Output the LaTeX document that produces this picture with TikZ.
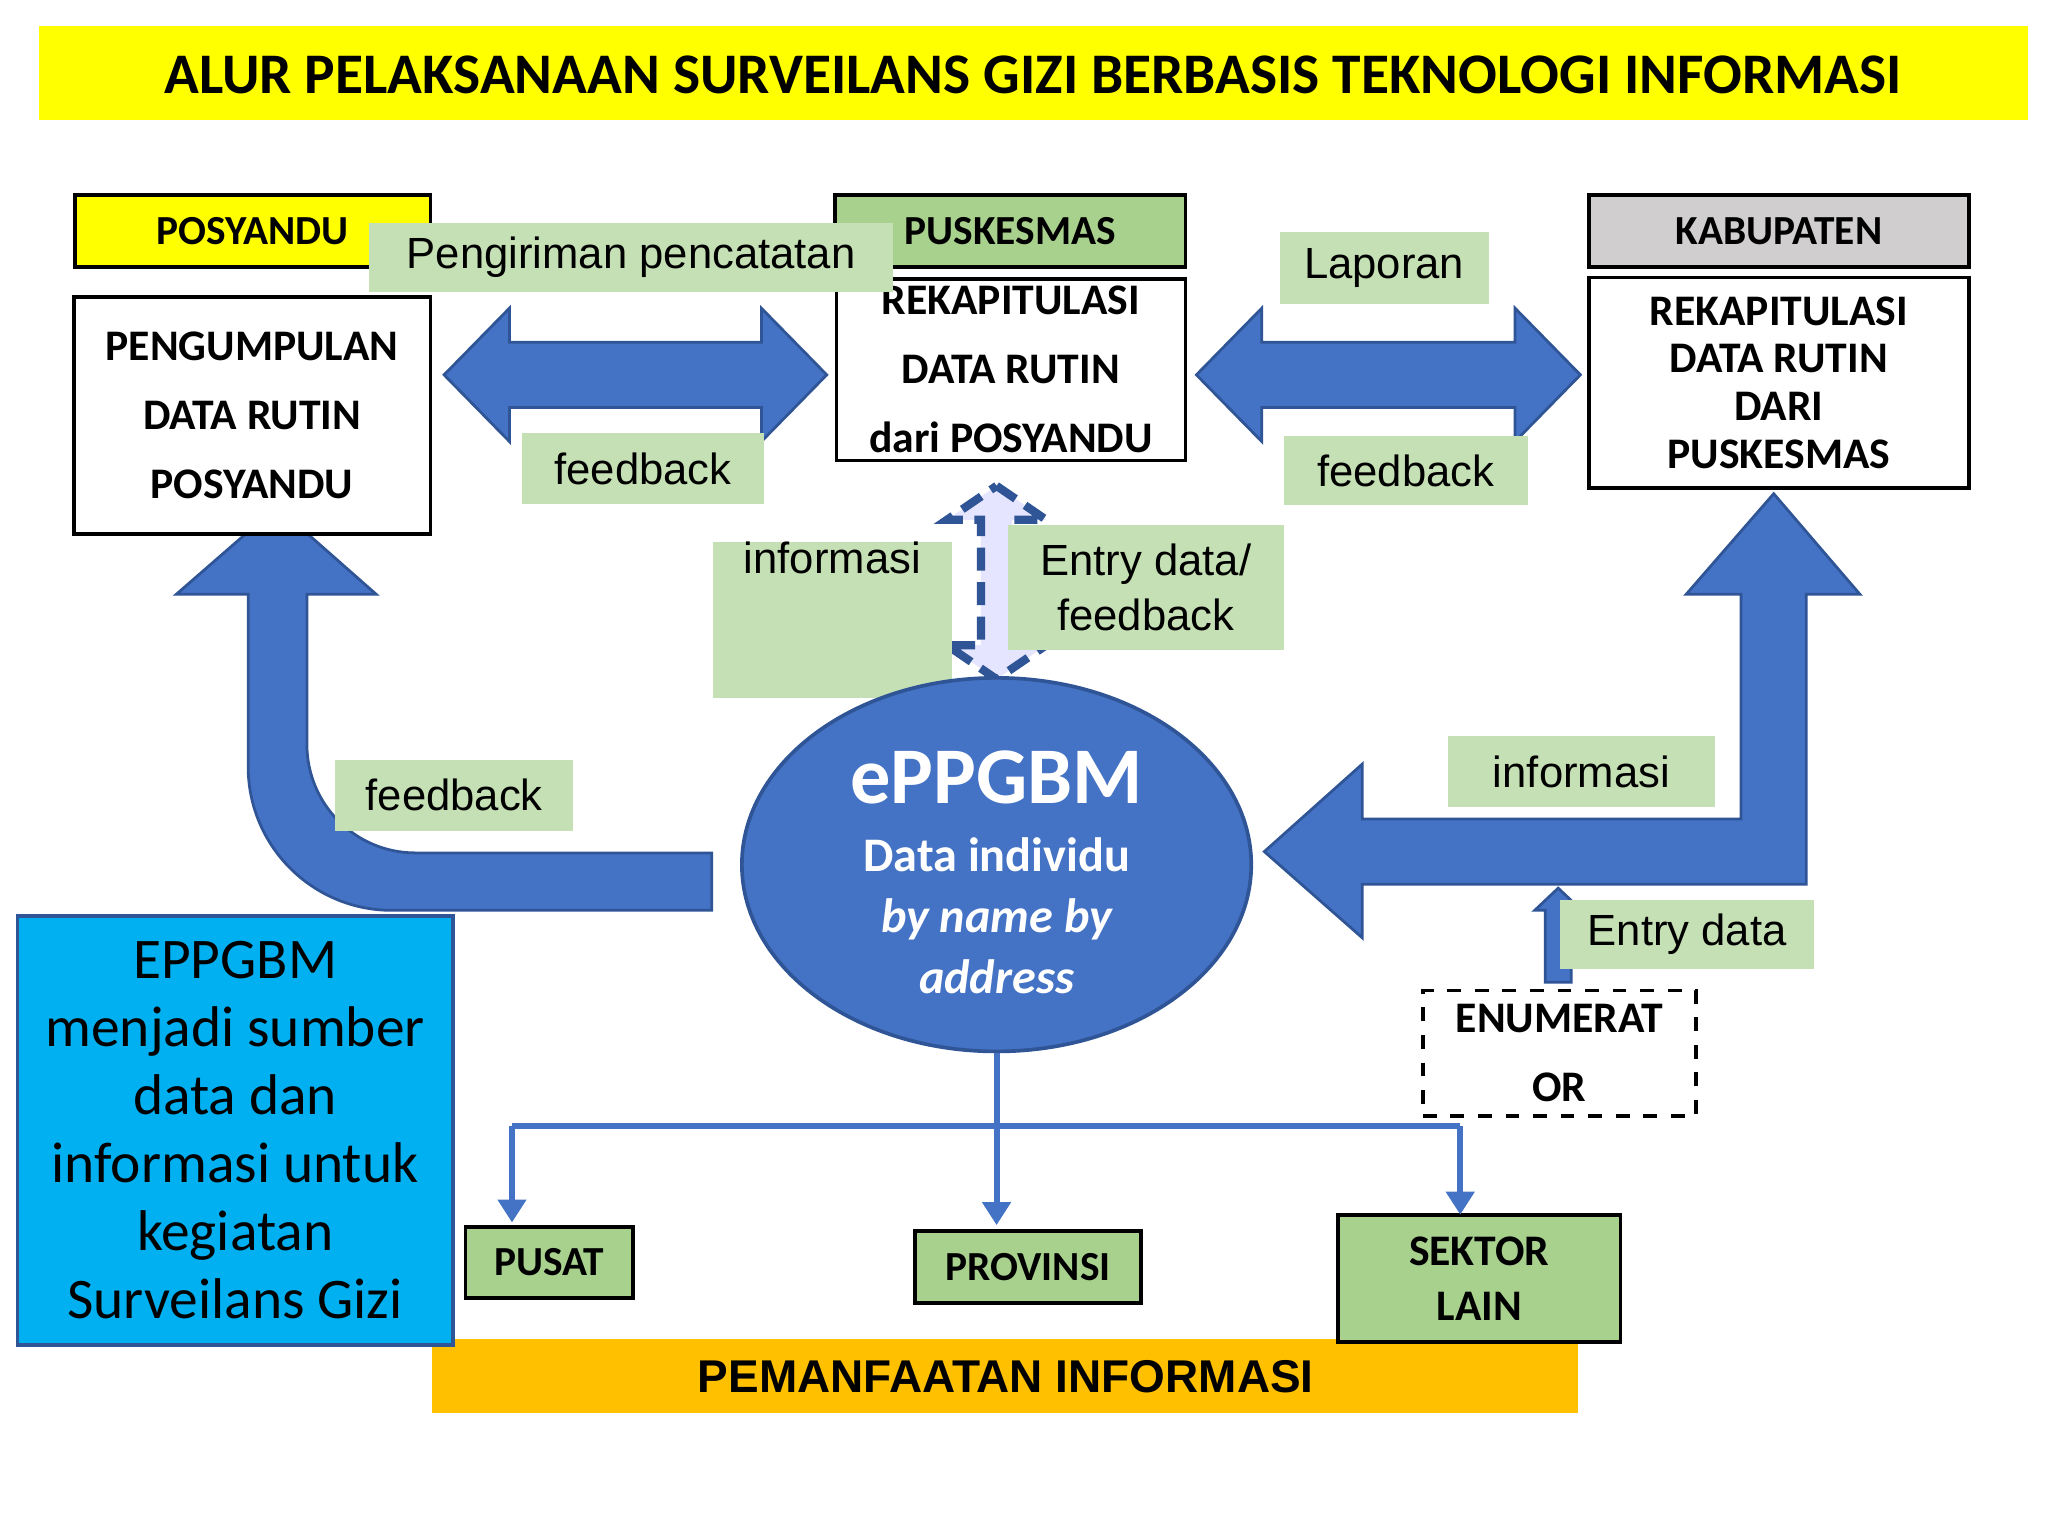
\documentclass[tikz,border=0pt]{standalone}
\usepackage{fontspec}
\setmainfont{Carlito}
\newfontfamily\arialf{Liberation Sans}
\usetikzlibrary{arrows.meta,shapes.geometric}
\definecolor{bl}{HTML}{4472C4}
\definecolor{dbl}{HTML}{2F5597}
\definecolor{lg}{HTML}{C5E0B4}
\definecolor{gb}{HTML}{A9D18E}
\definecolor{gr}{HTML}{D0CECE}
\definecolor{ye}{HTML}{FFFF00}
\definecolor{or}{HTML}{FFC000}
\definecolor{cy}{HTML}{00B0F0}
\tikzset{
 box/.style={draw=black,line width=0.8pt,align=center,font=\bfseries\fontsize{9}{12}\selectfont,inner sep=0pt},
 lab/.style={fill=lg,align=center,font=\arialf\fontsize{9.5}{12}\selectfont,inner sep=0pt},
 blk/.style={fill=bl,draw=dbl,line width=0.6pt},
 conn/.style={draw=bl,line width=1.3pt},
}
\newcommand{\rbox}[6]{\node[#6,minimum width=#3*0.01cm-0.8pt,minimum height=#4*0.01cm-0.8pt,anchor=north west] (#1) at (#2) {#5};}
\begin{document}
\begin{tikzpicture}[x=0.01cm,y=-0.01cm]
\useasboundingbox (0,0) rectangle (1568,1176);
\fill[white] (0,0) rectangle (1568,1176);
% title
\fill[ye] (30,20) rectangle (1553,92);
\node[font=\bfseries\fontsize{12.5}{14}\selectfont] (title) at (791,57) {ALUR PELAKSANAAN SURVEILANS GIZI BERBASIS TEKNOLOGI INFORMASI};
% block arrows
\path[blk] (340,287) -- (390,236) -- (390,262) -- (583,262) -- (583,236) -- (633,287) -- (583,338) -- (583,312) -- (390,312) -- (390,338) -- cycle;
\path[blk] (916,287) -- (966,236) -- (966,262) -- (1160,262) -- (1160,236) -- (1210,287) -- (1160,338) -- (1160,312) -- (966,312) -- (966,338) -- cycle;
\path[blk] (545,697) -- (300,697) arc (90:180:110) -- (190,455) -- (135,455) -- (212,388) -- (288,455) -- (235,455) -- (235,570) arc (180:90:83) -- (545,653) -- cycle;
\path[blk] (1358,378) -- (1424,455) -- (1383,455) -- (1383,677) -- (1043,677) -- (1043,718) -- (968,652) -- (1043,585) -- (1043,627) -- (1333,627) -- (1333,455) -- (1291,455) -- cycle;
\path[blk] (1183,752) -- (1183,697) -- (1175,697) -- (1193,680) -- (1211,697) -- (1203,697) -- (1203,752) -- cycle;
% dashed double arrow
\path[fill=blue!10,draw=dbl,line width=1.8pt,dash pattern=on 5pt off 2.5pt] (763,372) -- (801,398) -- (775,398) -- (775,494) -- (801,494) -- (763,520) -- (725,494) -- (751,494) -- (751,398) -- (725,398) -- cycle;
% boxes
\rbox{posy}{56,148}{275}{58}{POSYANDU}{box,fill=ye}
\rbox{peng}{55,226}{276}{184}{PENGUMPULAN\\DATA RUTIN\\POSYANDU}{box,fill=white,font=\bfseries\fontsize{9.5}{15}\selectfont}
\rbox{pusk}{638,148}{271}{58}{PUSKESMAS}{box,fill=gb}
\rbox{rekp}{639,212}{270}{142}{REKAPITULASI\\DATA RUTIN\\dari POSYANDU}{box,fill=white,font=\bfseries\fontsize{9.5}{15}\selectfont}
\rbox{kab}{1215,148}{294}{58}{KABUPATEN}{box,fill=gr}
\rbox{rekk}{1215,211}{294}{164}{REKAPITULASI\\DATA RUTIN\\DARI\\PUSKESMAS}{box,fill=white,font=\bfseries\fontsize{9.5}{10.4}\selectfont}
% labels
\rbox{l1}{282,170}{404}{56}{Pengiriman pencatatan}{lab}
\rbox{l2}{399,331}{188}{57}{feedback}{lab}
\rbox{l3}{979,177}{163}{58}{Laporan}{lab}
\rbox{l4}{982,333}{190}{56}{feedback}{lab}
\rbox{l5}{545,414}{186}{100}{informasi\\[3ex]}{lab}
\rbox{l6}{771,401}{214}{99}{Entry data/\\feedback}{lab}
\rbox{l7}{256,581}{185}{57}{feedback}{lab}
\rbox{l8}{1108,563}{207}{57}{informasi}{lab}
\rbox{l9}{1194,688}{197}{56}{Entry data}{lab}
% ellipse
\node[ellipse,fill=bl,draw=dbl,line width=0.8pt,minimum width=390*0.01cm,minimum height=286*0.01cm,inner sep=0pt] (epp) at (763,662) {};
\node[text=white,align=center,font=\bfseries\fontsize{10.5}{13.3}\selectfont] (ett) at (763,668) {{\fontsize{17.5}{19}\selectfont ePPGBM}\\[0.3ex]Data individu\\\itshape by name by\\\itshape address};
% enumerator
\rbox{enu}{1088,757}{212}{99}{ENUMERAT\\OR}{box,fill=white,dashed,font=\bfseries\fontsize{9.5}{15}\selectfont}
% bottom
\fill[or] (331,1025) rectangle (1208,1082);
\node[font=\arialf\bfseries\fontsize{10}{12}\selectfont] (pem) at (770,1054) {PEMANFAATAN INFORMASI};
\rbox{pus}{355,938}{131}{57}{PUSAT}{box,fill=gb}
\rbox{prov}{699,941}{176}{58}{PROVINSI}{box,fill=gb}
\rbox{sek}{1023,929}{219}{100}{SEKTOR\\LAIN}{box,fill=gb,font=\bfseries\fontsize{9.5}{12}\selectfont}
\coordinate (j) at (763,862);
\draw[conn] (epp.south) -- (j);
\draw[conn] (392,862) -- (1118,862);
\draw[conn,-{Triangle[length=5pt,width=6pt]}] (392,862) -- (392,936);
\draw[conn,-{Triangle[length=5pt,width=6pt]}] (j) -- (763,938);
\draw[conn,-{Triangle[length=5pt,width=6pt]}] (1118,862) -- (1118,930);
% cyan box
\rbox{cyb}{12,700}{336}{331}{EPPGBM\\menjadi sumber\\data dan\\informasi untuk\\kegiatan\\Surveilans Gizi}{box,fill=cy,draw=dbl,font=\fontsize{12.5}{14.8}\selectfont}
\end{tikzpicture}
\end{document}
